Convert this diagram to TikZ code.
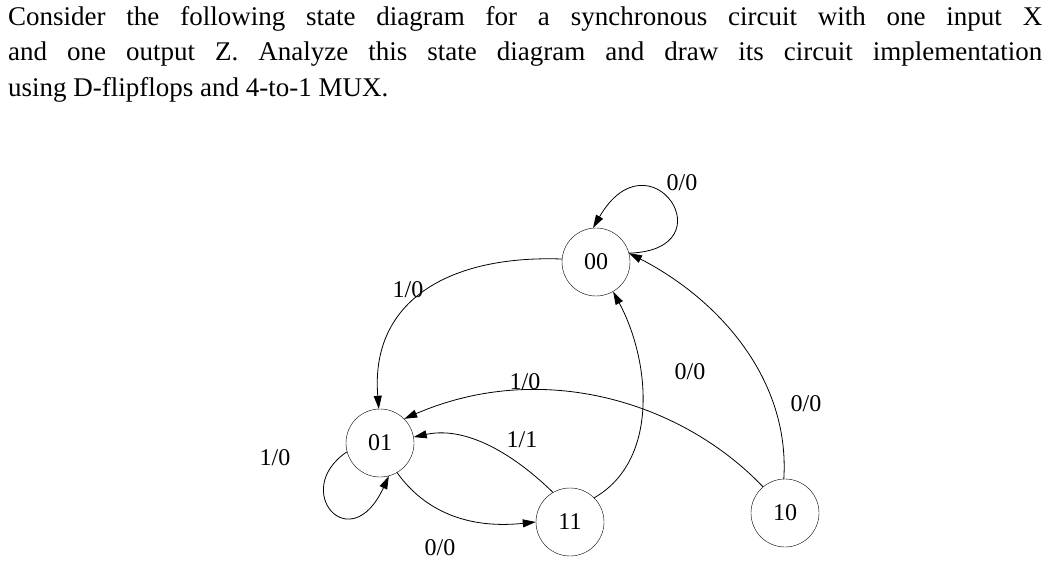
\documentclass[tikz,border=0pt]{standalone}
\usepackage{fontspec}
\setmainfont{Liberation Serif}
\usetikzlibrary{arrows.meta}
\begin{document}
\begin{tikzpicture}[x=1pt,y=-1pt,
  st/.style={circle,draw,minimum size=68pt,inner sep=0pt,font=\fontsize{24}{24}\selectfont},
  lb/.style={font=\fontsize{24}{24}\selectfont},
  ed/.style={draw,line width=0.8pt,-{Triangle[length=13pt,width=8pt]}}]
\useasboundingbox (0,0) rectangle (1050,572);
\node[anchor=north west,inner sep=0pt,text width=1034pt,align=justify,font=\fontsize{27}{35.5}\selectfont] (txt) at (8,6)
 {Consider the following state diagram for a synchronous circuit with one input X\linebreak and one output Z. Analyze this state diagram and draw its circuit implementation\linebreak using D-flipflops and 4-to-1 MUX.};
\node[st] (s00) at (596,262) {00};
\node[st] (s01) at (380,443) {01};
\node[st] (s11) at (570,522) {11};
\node[st] (s10) at (785,513) {10};
% self loops
\draw[ed] (s00.15) .. controls (730,250) and (650,130) .. (s00.95);
\node[lb] (l1) at (682,183) {0/0};
\draw[ed] (s01.195) .. controls (290,490) and (350,560) .. (s01.285);
\node[lb] (l2) at (275,458) {1/0};
% edges
\draw[ed] (s00.175) .. controls (450,255) and (370,300) .. (s01.92);
\node[lb] (l3) at (408,290) {1/0};
\draw[ed] (s10.130) .. controls (680,400) and (540,360) .. (s01.45);
\node[lb] (l4) at (525,382) {1/0};
\draw[ed] (s11.120) .. controls (520,460) and (470,425) .. (s01.10);
\node[lb] (l5) at (522,440) {1/1};
\draw[ed] (s01.300) .. controls (420,505) and (460,530) .. (s11.180);
\node[lb] (l6) at (440,548) {0/0};
\draw[ed] (s11.45) .. controls (660,460) and (650,360) .. (s00.300);
\node[lb] (l7) at (690,372) {0/0};
\draw[ed] (s10.92) .. controls (790,380) and (720,300) .. (s00.15);
\node[lb] (l8) at (806,404) {0/0};
\end{tikzpicture}
\end{document}
